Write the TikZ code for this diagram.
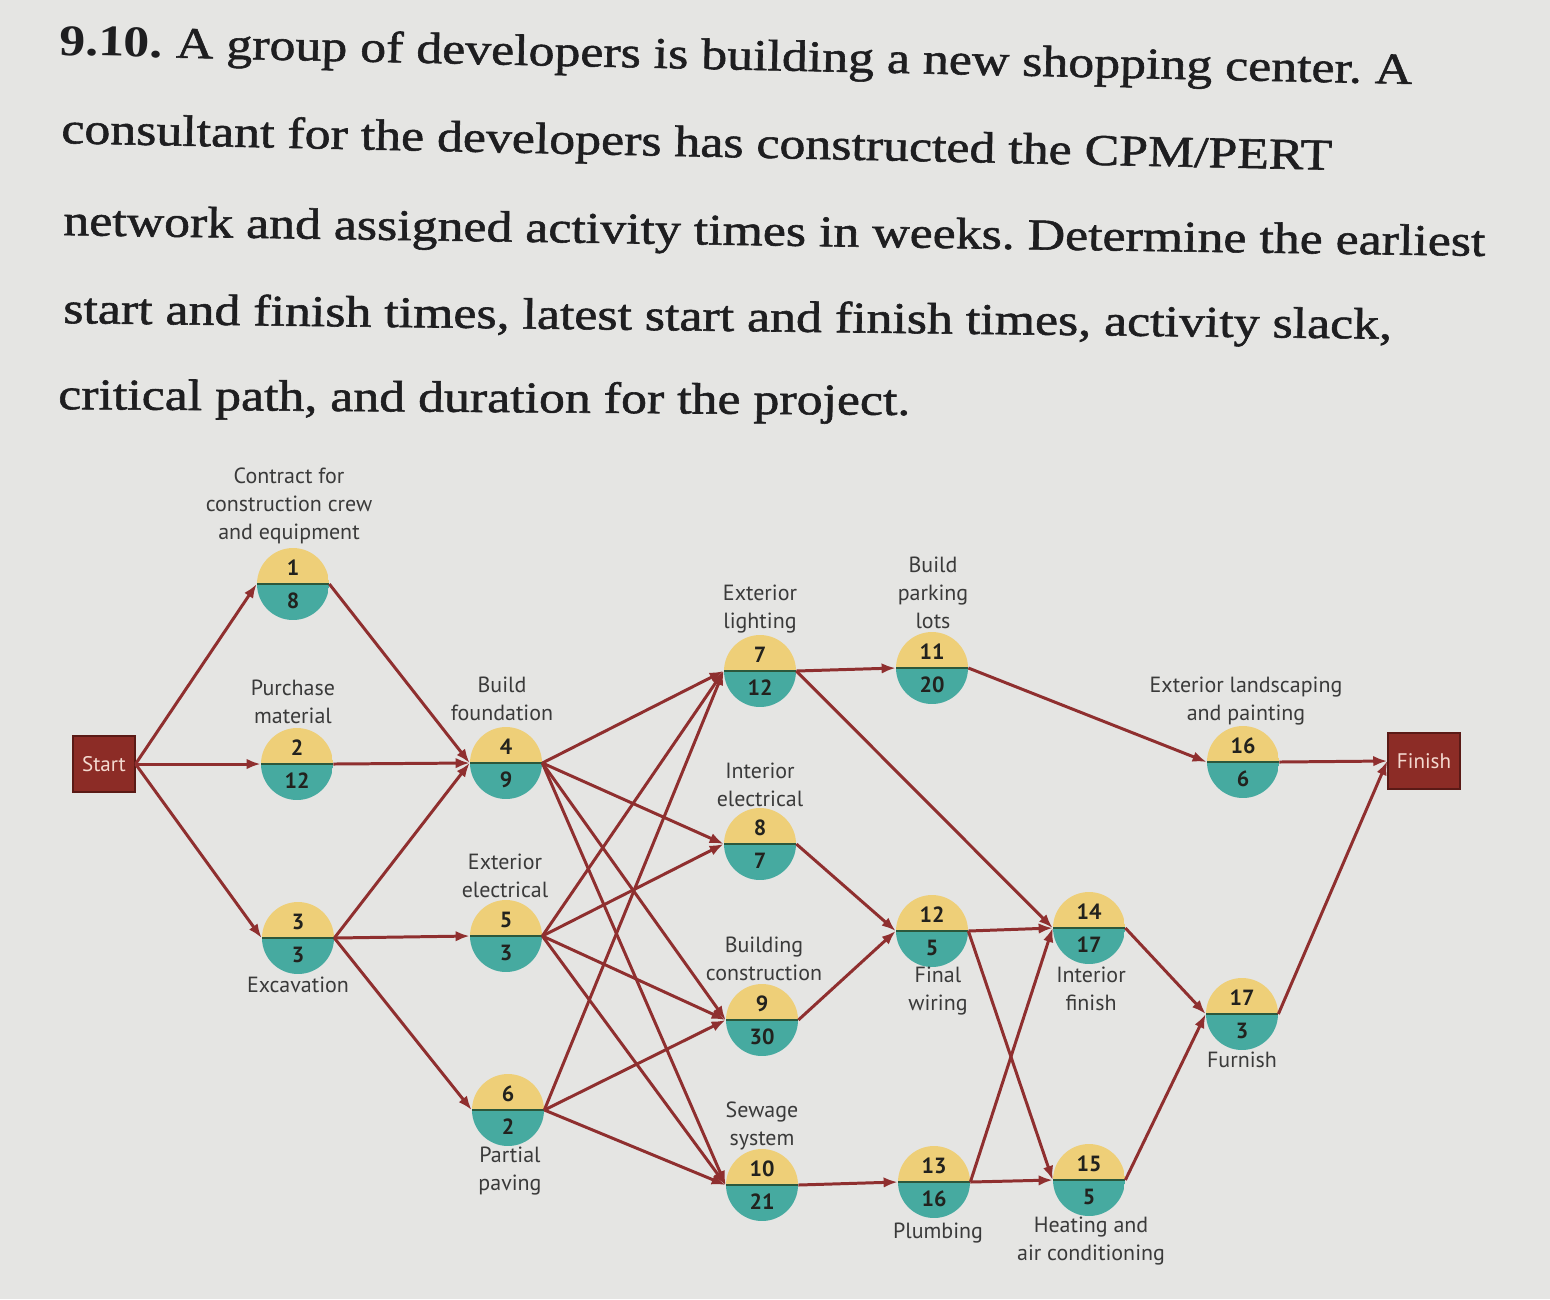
\documentclass[tikz,border=0pt]{standalone}
\usepackage{fontspec}
\usetikzlibrary{arrows.meta}
\newfontfamily\qfont{Liberation Serif}[FakeStretch=1.18,FakeBold=1.3]
\newfontfamily\qnumfont{Liberation Serif}[FakeStretch=1.18]
\newfontfamily\labelfont{PT Sans}
\definecolor{paper}{RGB}{229,229,227}
\definecolor{qink}{RGB}{30,30,32}
\definecolor{labelink}{RGB}{58,58,58}
\definecolor{numink}{RGB}{34,34,30}
\definecolor{ylw}{RGB}{238,207,120}
\definecolor{tealc}{RGB}{70,170,160}
\definecolor{divider}{RGB}{44,88,60}
\definecolor{linkred}{RGB}{143,47,47}
\definecolor{boxred}{RGB}{140,44,38}
\definecolor{boxedge}{RGB}{90,26,22}
\definecolor{boxink}{RGB}{244,218,208}
\frenchspacing
\begin{document}
\begin{tikzpicture}[x=0.02cm, y=-0.02cm,
    every node/.style={align=center},
    question/.style={anchor=base west, font=\qfont\fontsize{25}{30}\selectfont, text=qink},
    caption/.style={font=\labelfont\fontsize{12.5}{16}\selectfont, text=labelink},
    activity/.style={circle, minimum size=1.44cm, inner sep=0pt,
        font=\labelfont\bfseries\fontsize{12.5}{18.8}\selectfont, text=numink,
        path picture={
            \fill[ylw] (path picture bounding box.north west) rectangle (path picture bounding box.east);
            \fill[tealc] (path picture bounding box.west) rectangle (path picture bounding box.south east);
            \draw[divider, line width=1.2pt] (path picture bounding box.west) -- (path picture bounding box.east);
        }},
    endbox/.style={draw=boxedge, line width=1pt, fill=boxred, text=boxink,
        font=\labelfont\fontsize{12}{14}\selectfont, minimum height=1.12cm, inner xsep=5pt},
    link/.style={draw=linkred, line width=1.7pt, -{Latex[length=8pt,width=6pt]}},
    ]
\useasboundingbox (0,0) rectangle (1550,1299);
\fill[paper] (0,0) rectangle (1550,1299);
% problem text
\node[question, rotate=-1.22] (line1) at (53,55) {{\qnumfont\bfseries 9.10.} A group of developers is building a new shopping center. A};
\node[question, rotate=-1.2] (line2) at (55,143) {consultant for the developers has constructed the CPM/PERT};
\node[question, rotate=-0.84] (line3) at (57,235) {network and assigned activity times in weeks. Determine the earliest};
\node[question, rotate=-0.68] (line4) at (57,323) {start and finish times, latest start and finish times, activity slack,};
\node[question, rotate=-0.4] (line5) at (52,409) {critical path, and duration for the project.};
% network
\node[endbox] (start) at (104,764) {Start};
\node[endbox] (finish) at (1424,761) {Finish};
\node[activity] (contract) at (293,584) {1\\8};
\node[activity] (purchase) at (297,764) {2\\12};
\node[activity] (excavation) at (298,938) {3\\3};
\node[activity] (foundation) at (506,763) {4\\9};
\node[activity] (extelec) at (506,936) {5\\3};
\node[activity] (paving) at (508,1110) {6\\2};
\node[activity] (extlight) at (760,671) {7\\12};
\node[activity] (intelec) at (760,844) {8\\7};
\node[activity] (construction) at (762,1020) {9\\30};
\node[activity] (sewage) at (762,1185) {10\\21};
\node[activity] (parking) at (932,668) {11\\20};
\node[activity] (wiring) at (932,931) {12\\5};
\node[activity] (plumbing) at (934,1182) {13\\16};
\node[activity] (intfinish) at (1089,928) {14\\17};
\node[activity] (heating) at (1089,1180) {15\\5};
\node[activity] (landscaping) at (1243,762) {16\\6};
\node[activity] (furnish) at (1242,1014) {17\\3};
% activity names
\node[caption] (contractT) at (289,506) {Contract for\\construction crew\\and equipment};
\node[caption] (purchaseT) at (293,702) {Purchase\\material};
\node[caption] (foundationT) at (502,699) {Build\\foundation};
\node[caption] (excavationT) at (298,985) {Excavation};
\node[caption] (extelecT) at (505,876) {Exterior\\electrical};
\node[caption] (pavingT) at (510,1171) {Partial\\paving};
\node[caption] (extlightT) at (760,609) {Exterior\\lighting};
\node[caption] (intelecT) at (760,785) {Interior\\electrical};
\node[caption] (constructionT) at (764,959) {Building\\construction};
\node[caption] (sewageT) at (762,1126) {Sewage\\system};
\node[caption] (parkingT) at (933,593) {Build\\parking\\lots};
\node[caption] (wiringT) at (938,991) {Final\\wiring};
\node[caption] (plumbingT) at (938,1233) {Plumbing};
\node[caption] (intfinishT) at (1091,989) {Interior\\finish};
\node[caption] (heatingT) at (1091,1241) {Heating and\\air conditioning};
\node[caption] (landscapingT) at (1246,701) {Exterior landscaping\\and painting};
\node[caption] (furnishT) at (1242,1060) {Furnish};
% links
\draw[link] (start.east) -- (contract.west);
\draw[link] (start.east) -- (purchase.west);
\draw[link] (start.east) -- (excavation.west);
\draw[link] (contract.east) -- (foundation.west);
\draw[link] (purchase.east) -- (foundation.west);
\draw[link] (excavation.east) -- (foundation.west);
\draw[link] (excavation.east) -- (extelec.west);
\draw[link] (excavation.east) -- (paving.west);
\draw[link] (foundation.east) -- (extlight.west);
\draw[link] (foundation.east) -- (intelec.west);
\draw[link] (foundation.east) -- (construction.west);
\draw[link] (foundation.east) -- (sewage.west);
\draw[link] (extelec.east) -- (extlight.west);
\draw[link] (extelec.east) -- (intelec.west);
\draw[link] (extelec.east) -- (construction.west);
\draw[link] (extelec.east) -- (sewage.west);
\draw[link] (paving.east) -- (extlight.west);
\draw[link] (paving.east) -- (construction.west);
\draw[link] (paving.east) -- (sewage.west);
\draw[link] (extlight.east) -- (parking.west);
\draw[link] (extlight.east) -- (intfinish.west);
\draw[link] (intelec.east) -- (wiring.west);
\draw[link] (construction.east) -- (wiring.west);
\draw[link] (sewage.east) -- (plumbing.west);
\draw[link] (parking.east) -- (landscaping.west);
\draw[link] (wiring.east) -- (intfinish.west);
\draw[link] (wiring.east) -- (heating.west);
\draw[link] (plumbing.east) -- (intfinish.west);
\draw[link] (plumbing.east) -- (heating.west);
\draw[link] (intfinish.east) -- (furnish.west);
\draw[link] (heating.east) -- (furnish.west);
\draw[link] (landscaping.east) -- (finish.west);
\draw[link] (furnish.east) -- (finish.west);
\end{tikzpicture}
\end{document}
